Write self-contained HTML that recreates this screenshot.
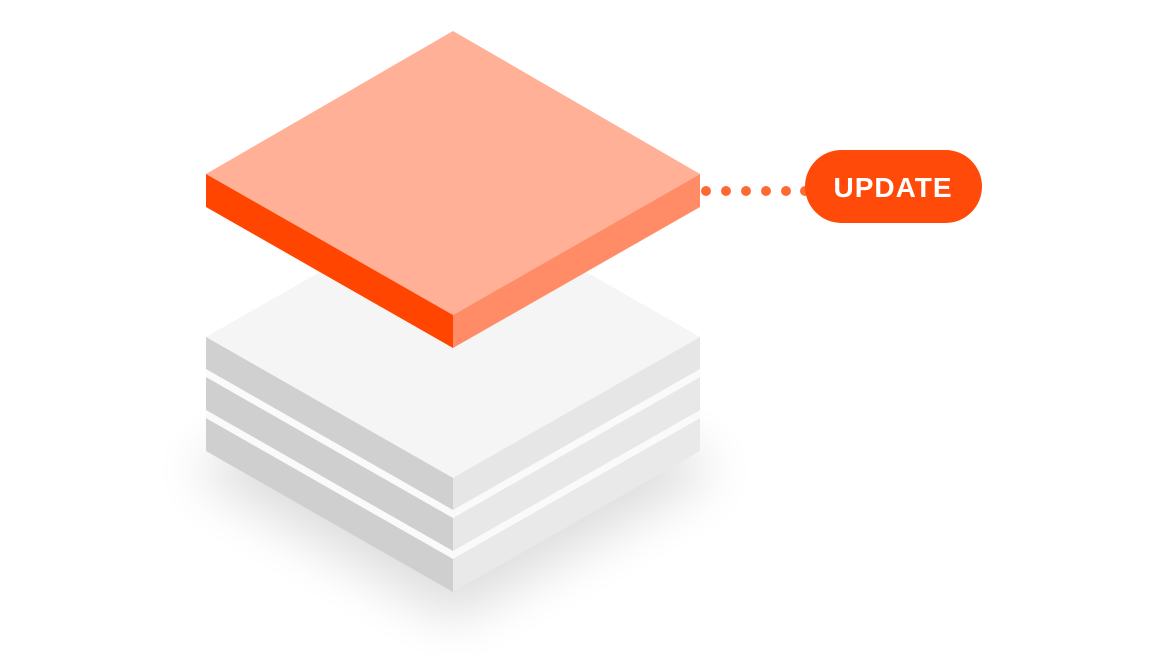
<!DOCTYPE html>
<html><head><style>
html,body{margin:0;padding:0;background:#fff;width:1160px;height:654px;overflow:hidden}
</style></head><body>
<svg width="1160" height="654" viewBox="0 0 1160 654" xmlns="http://www.w3.org/2000/svg">
<defs>
<filter id="sh" x="-50%" y="-50%" width="200%" height="200%"><feGaussianBlur stdDeviation="26"/></filter>
</defs>
<!-- shadow -->
<polygon points="190,470 453,325 720,470 453,620" fill="#000" opacity="0.13" filter="url(#sh)"/>
<!-- slab 3 -->
<polygon points="206,418 453,559 453,592 206,451" fill="#cfcfcf"/>
<polygon points="453,559 700,418 700,451 453,592" fill="#e9e9e9"/>
<!-- slab 2 -->
<polygon points="206,377 453,518 700,377 700,418 453,559 206,418" fill="#fafafa"/>
<polygon points="206,377 453,518 453,551 206,410" fill="#cfcfcf"/>
<polygon points="453,518 700,377 700,410 453,551" fill="#e8e8e8"/>
<!-- slab 1 -->
<polygon points="206,337 453,478 700,337 700,377 453,518 206,377" fill="#fafafa"/>
<polygon points="453,196 700,337 453,478 206,337" fill="#f5f5f5"/>
<polygon points="206,337 453,478 453,510 206,369" fill="#d0d0d0"/>
<polygon points="453,478 700,337 700,369 453,510" fill="#e6e6e6"/>
<!-- orange -->
<polygon points="453,31 700,174 453,315 206,174" fill="#ffb097"/>
<polygon points="206,174 453,315 453,348 206,207" fill="#ff4500"/>
<polygon points="453,315 700,174 700,207 453,348" fill="#ff8c66"/>
<!-- dots -->
<g fill="#ff6a33">
<circle cx="706" cy="191" r="5"/><circle cx="726" cy="191" r="5"/><circle cx="746" cy="191" r="5"/><circle cx="766" cy="191" r="5"/><circle cx="786" cy="191" r="5"/><circle cx="805" cy="191" r="5"/>
</g>
<rect x="805" y="150" width="177" height="73" rx="36.5" fill="#ff4a0a"/>
<text x="893" y="197" text-anchor="middle" font-family="Liberation Sans, sans-serif" font-size="28" font-weight="bold" fill="#fff" letter-spacing="1">UPDATE</text>
</svg>
</body></html>
